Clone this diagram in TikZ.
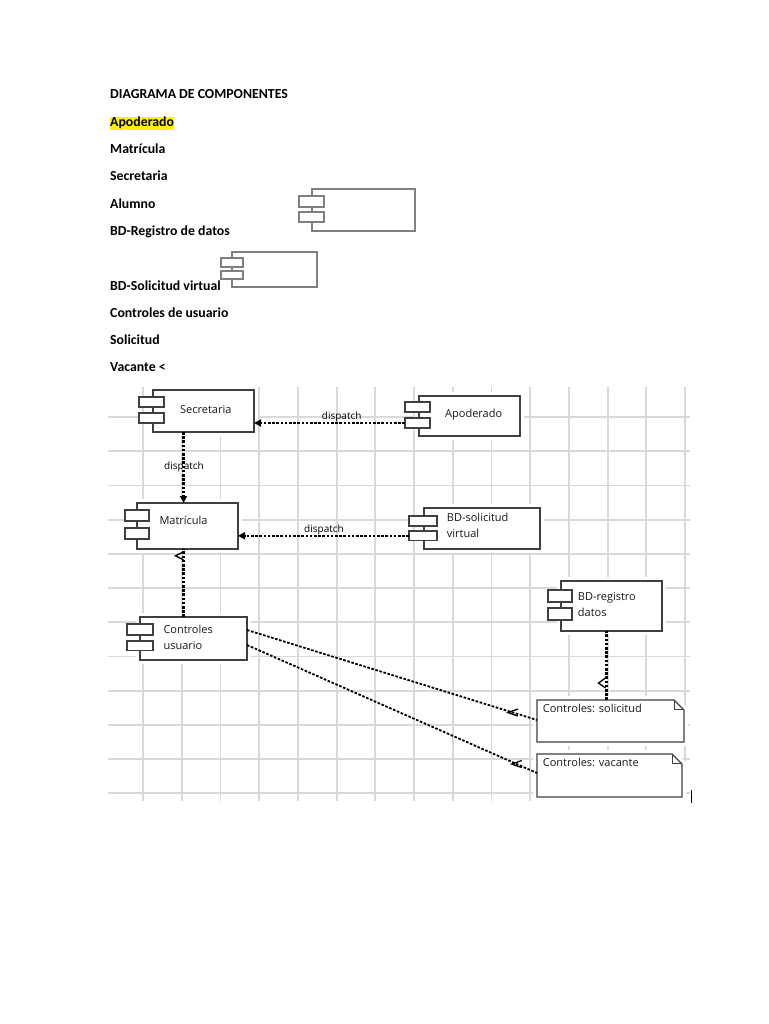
\documentclass[tikz,border=0pt]{standalone}
\usepackage{fontspec}
\setmainfont{Carlito}
\newfontfamily\diagfont{Open Sans}
\usetikzlibrary{arrows.meta,calc}
\begin{document}
\begin{tikzpicture}[x=1pt,y=-1pt,
  heading/.style={anchor=base west, inner sep=0pt, font=\bfseries\fontsize{13.8}{16}\selectfont},
  gridline/.style={draw=black!15, line width=1.8pt},
  box/.style={draw=black!75, line width=1.2pt, fill=white, inner sep=0pt, outer sep=0pt, anchor=north west, preaction={draw=white, line width=8pt}},
  tabbox/.style={draw=black!75, line width=1.2pt, fill=white, inner sep=0pt, outer sep=0pt, anchor=north west},
  iconbox/.style={draw=black!50, line width=1.5pt, fill=white, inner sep=0pt, outer sep=0pt, anchor=north west},
  notebox/.style={inner sep=0pt, outer sep=0pt, anchor=north west},
  noteline/.style={draw=black!75, line width=1.2pt, line join=miter},
  lbl/.style={font=\diagfont\fontsize{11}{15.8}\selectfont, text=black!90, inner sep=0pt, anchor=base west, align=left},
  disp/.style={font=\diagfont\fontsize{10}{11}\selectfont, inner sep=0pt, anchor=base},
  dep/.style={black, line width=1.8pt, dash pattern=on 2.6pt off 1.6pt},
  vdep/.style={black, line width=2.2pt, dash pattern=on 2.6pt off 1.6pt},
  tip/.style={-{Triangle[length=7pt,width=7pt]}},
  markpt/.style={coordinate},
  chevline/.style={draw=black, line width=1.3pt, line join=miter},
]
\useasboundingbox[fill=white] (0,0) rectangle (768,1024);

% ---------- heading texts ----------
\node[heading] (t0) at (110,98.3) {DIAGRAMA DE COMPONENTES};
\node[heading, fill=yellow, inner xsep=0.5pt, text height=10pt, text depth=3.3pt] (t1) at (109.5,126.7) {Apoderado};
\node[heading] (t2) at (110,153.3) {Matrícula};
\node[heading] (t3) at (110,180.7) {Secretaria};
\node[heading] (t4) at (110,208.3) {Alumno};
\node[heading] (t5) at (110,235.7) {BD-Registro de datos};
\node[heading] (t6) at (110,290) {BD-Solicitud virtual};
\node[heading] (t7) at (110,317.3) {Controles de usuario};
\node[heading] (t8) at (110,344.3) {Solicitud};
\node[heading] (t9) at (110,371.7) {Vacante <};

% ---------- loose component icons ----------
\node[iconbox, minimum width=103pt, minimum height=42pt] (ic1) at (312,189) {};
\node[iconbox, minimum width=25pt, minimum height=11pt] (ic1-p1) at (299,196) {};
\node[iconbox, minimum width=25pt, minimum height=10pt] (ic1-p2) at (299,212) {};
\node[iconbox, minimum width=85pt, minimum height=35pt] (ic2) at (232,252) {};
\node[iconbox, minimum width=22pt, minimum height=9pt] (ic2-p1) at (221,258) {};
\node[iconbox, minimum width=22pt, minimum height=8pt] (ic2-p2) at (221,271) {};

% ---------- grid ----------
\foreach \i in {0,...,14} \draw[gridline] ({143+38.72*\i},387) -- ({143+38.72*\i},801);
\foreach \j in {0,...,11} \draw[gridline] (108,{417+34.2*\j}) -- (690,{417+34.2*\j});

% ---------- components ----------
\node[box, minimum width=101pt, minimum height=42pt] (secr) at (153,390) {};
\node[tabbox, minimum width=25pt, minimum height=10pt] (secr-p1) at (139,397) {};
\node[tabbox, minimum width=25pt, minimum height=10pt] (secr-p2) at (139,413) {};
\node[lbl] (secr-t) at (180,413.5) {Secretaria};

\node[box, minimum width=101pt, minimum height=40pt] (apod) at (419,396) {};
\node[tabbox, minimum width=25pt, minimum height=10pt] (apod-p1) at (405,402) {};
\node[tabbox, minimum width=25pt, minimum height=10pt] (apod-p2) at (405,418) {};
\node[lbl] (apod-t) at (445,417) {Apoderado};

\node[box, minimum width=101pt, minimum height=46pt] (matr) at (137,503) {};
\node[tabbox, minimum width=24pt, minimum height=11pt] (matr-p1) at (125,510) {};
\node[tabbox, minimum width=24pt, minimum height=11pt] (matr-p2) at (125,528) {};
\node[lbl] (matr-t) at (159.3,524.3) {Matrícula};

\node[box, minimum width=116pt, minimum height=41pt] (bdsv) at (424,508) {};
\node[tabbox, minimum width=28pt, minimum height=10pt] (bdsv-p1) at (409,516) {};
\node[tabbox, minimum width=28pt, minimum height=9.5pt] (bdsv-p2) at (409,531) {};
\node[lbl] (bdsv-t) at (446.7,537.3) {BD-solicitud\\virtual};

\node[box, minimum width=107pt, minimum height=43pt] (ctrl) at (140,617) {};
\node[tabbox, minimum width=26pt, minimum height=11pt] (ctrl-p1) at (127,624) {};
\node[tabbox, minimum width=26pt, minimum height=9.5pt] (ctrl-p2) at (127,641) {};
\node[lbl] (ctrl-t) at (163.3,649.3) {Controles\\usuario};

\node[box, minimum width=101pt, minimum height=50pt] (bdreg) at (561,581) {};
\node[tabbox, minimum width=24pt, minimum height=12pt] (bdreg-p1) at (548,590) {};
\node[tabbox, minimum width=24pt, minimum height=12pt] (bdreg-p2) at (548,608) {};
\node[lbl] (bdreg-t) at (577.7,616.7) {BD-registro\\datos};

% ---------- notes ----------
\node[notebox, minimum width=147pt, minimum height=42pt] (sol) at (537,700) {};
\node[notebox, minimum width=145pt, minimum height=43pt] (vac) at (537,754) {};
\foreach \n in {sol,vac}{
  \draw[noteline, fill=white, preaction={draw=white, line width=8pt}]
    (\n.north west) -- ($(\n.north east)+(-10,0)$) -- ($(\n.north east)+(0,10)$)
    -- (\n.south east) -- (\n.south west) -- cycle;
  \draw[noteline, line width=1pt] ($(\n.north east)+(-10,0)$) -- ($(\n.north east)+(-10,9)$) -- ($(\n.north east)+(0,9)$);
}
\node[lbl] (sol-t) at (542.7,712.7) {Controles: solicitud};
\node[lbl] (vac-t) at (542.7,766) {Controles: vacante};

% ---------- connectors ----------
\coordinate (vx) at (183.5,0);
\coordinate (vx2) at (606.5,0);
\draw[dep, tip] (apod-p2.west) -- (apod-p2.west -| secr.east);
\node[disp] (d1) at (341.7,419) {dispatch};
\draw[vdep, tip] (secr.south -| vx) -- (matr.north -| vx);
\node[disp] (d2) at (184,469) {dispatch};
\draw[dep, tip] (bdsv-p2.west) -- (bdsv-p2.west -| matr.east);
\node[disp] (d3) at (324,532.3) {dispatch};

\draw[vdep] (ctrl.north -| vx) -- node[markpt, pos=0.9] (c4) {} (matr.south -| vx);
\draw[dep] ($(ctrl.north east)+(0,13)$) -- node[markpt, pos=0.917] (c5) {} ($(sol.north west)+(0,20)$);
\draw[dep] ($(ctrl.north east)+(0,28)$) -- node[markpt, pos=0.93] (c6) {} ($(vac.north west)+(0,19)$);
\draw[vdep] (sol.north -| vx2) -- node[markpt, pos=0.246] (c7) {} (bdreg.south -| vx2);

% "<" marks on the connectors
\draw[chevline] ($(c4)+(0,-4)$) -- ($(c4)+(-8,0)$) -- ($(c4)+(0,4)$);
\draw[chevline] ($(c5)+(5,-3.5)$) -- ($(c5)+(-5,0)$) -- ($(c5)+(5,3.5)$);
\draw[chevline] ($(c6)+(5,-3.5)$) -- ($(c6)+(-5,0)$) -- ($(c6)+(5,3.5)$);
\draw[chevline] ($(c7)+(-1,-5)$) -- ($(c7)+(-8,0)$) -- ($(c7)+(-1,5)$);

% stray cursor mark
\draw[black, line width=1.2pt] (691.7,790) -- (691.7,803);
\end{tikzpicture}
\end{document}
